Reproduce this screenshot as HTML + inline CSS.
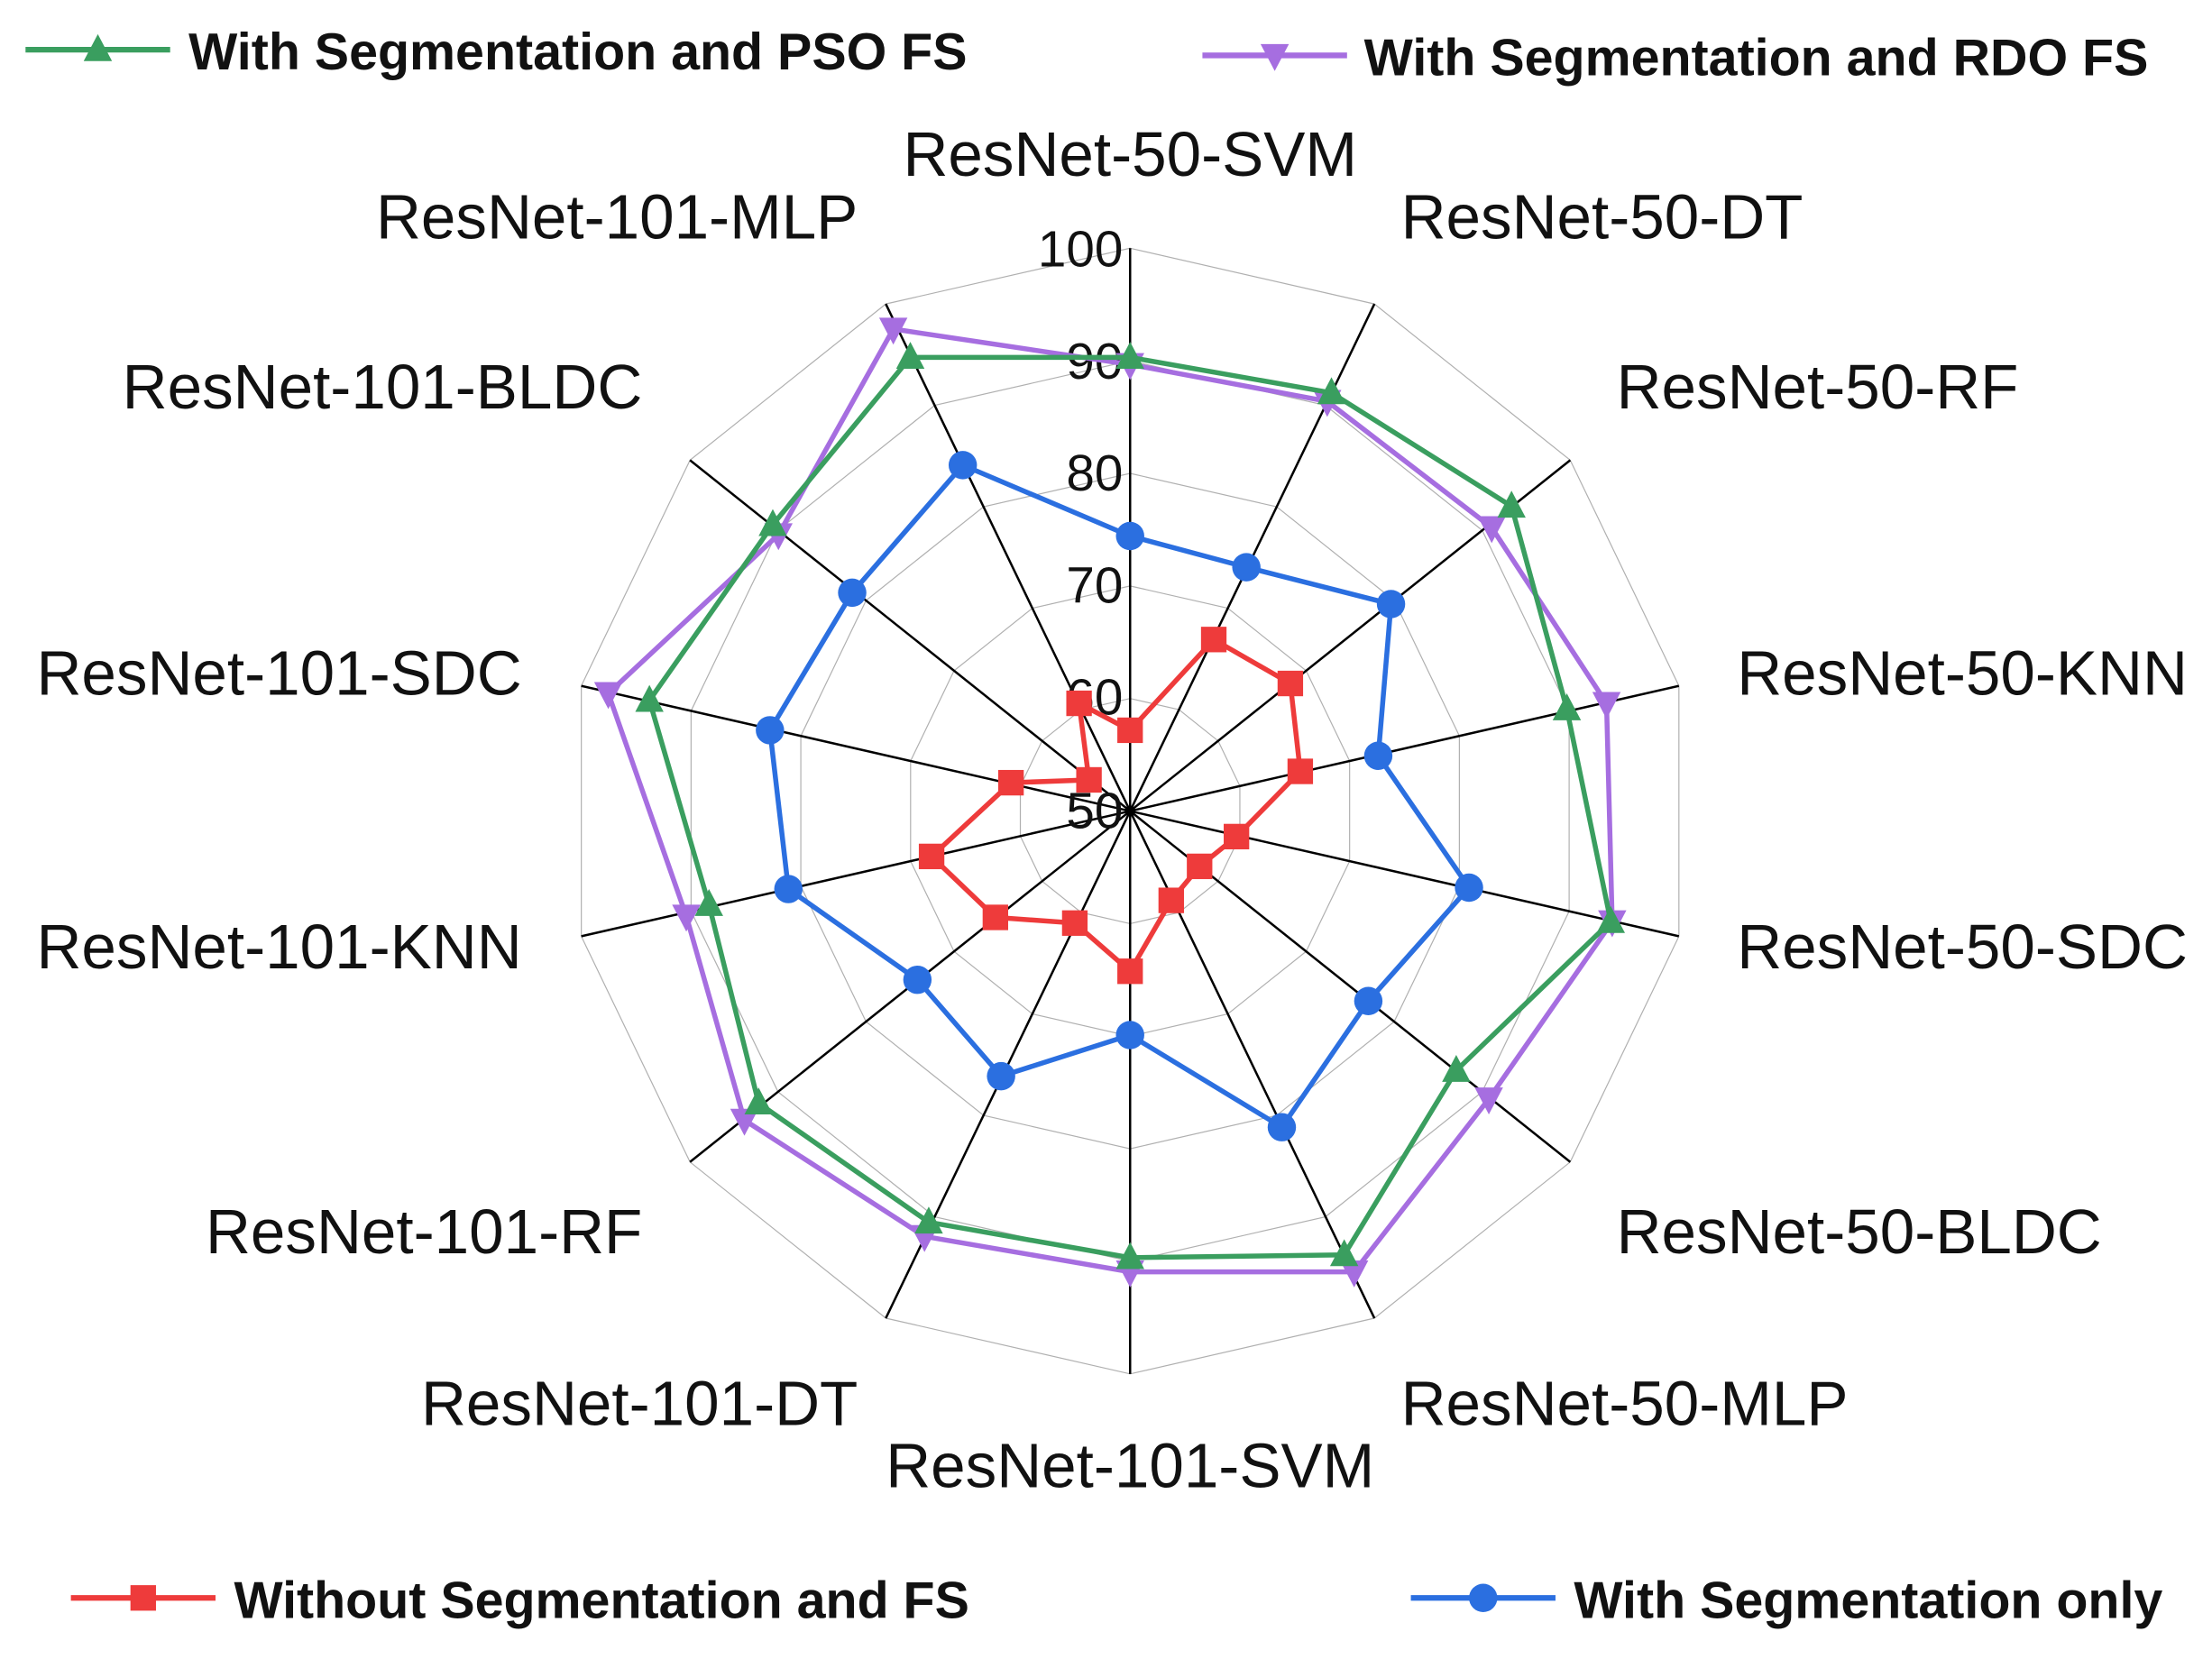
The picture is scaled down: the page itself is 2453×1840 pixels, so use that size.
<!DOCTYPE html>
<html><head><meta charset="utf-8"><style>html,body{margin:0;padding:0;background:#fff}svg{display:block}</style></head>
<body>
<svg width="2453" height="1840" viewBox="0 0 1560 1170" xmlns="http://www.w3.org/2000/svg" font-family="Liberation Sans, Arial, sans-serif">
<defs>
<g id="mu"><polygon points="0,-11 10,8 -10,8" fill="#3a9e5f"/></g>
<g id="md"><polygon points="0,11 10,-8 -10,-8" fill="#a66ee0"/></g>
<g id="mc"><circle cx="0" cy="0" r="10" fill="#2b6fe0"/></g>
<g id="ms"><rect x="-9" y="-9" width="18" height="18" fill="#ee3b3b"/></g>
</defs>
<g fill="none" stroke="#b0b0b0" stroke-width="1.2">
<polygon transform="translate(797,572) scale(79.4)" vector-effect="non-scaling-stroke" points="0,-1 0.4339,-0.9010 0.7818,-0.6235 0.9749,-0.2225 0.9749,0.2225 0.7818,0.6235 0.4339,0.9010 0,1 -0.4339,0.9010 -0.7818,0.6235 -0.9749,0.2225 -0.9749,-0.2225 -0.7818,-0.6235 -0.4339,-0.9010"/>
<polygon transform="translate(797,572) scale(158.8)" vector-effect="non-scaling-stroke" points="0,-1 0.4339,-0.9010 0.7818,-0.6235 0.9749,-0.2225 0.9749,0.2225 0.7818,0.6235 0.4339,0.9010 0,1 -0.4339,0.9010 -0.7818,0.6235 -0.9749,0.2225 -0.9749,-0.2225 -0.7818,-0.6235 -0.4339,-0.9010"/>
<polygon transform="translate(797,572) scale(238.2)" vector-effect="non-scaling-stroke" points="0,-1 0.4339,-0.9010 0.7818,-0.6235 0.9749,-0.2225 0.9749,0.2225 0.7818,0.6235 0.4339,0.9010 0,1 -0.4339,0.9010 -0.7818,0.6235 -0.9749,0.2225 -0.9749,-0.2225 -0.7818,-0.6235 -0.4339,-0.9010"/>
<polygon transform="translate(797,572) scale(317.6)" vector-effect="non-scaling-stroke" points="0,-1 0.4339,-0.9010 0.7818,-0.6235 0.9749,-0.2225 0.9749,0.2225 0.7818,0.6235 0.4339,0.9010 0,1 -0.4339,0.9010 -0.7818,0.6235 -0.9749,0.2225 -0.9749,-0.2225 -0.7818,-0.6235 -0.4339,-0.9010"/>
<polygon transform="translate(797,572) scale(397)" vector-effect="non-scaling-stroke" points="0,-1 0.4339,-0.9010 0.7818,-0.6235 0.9749,-0.2225 0.9749,0.2225 0.7818,0.6235 0.4339,0.9010 0,1 -0.4339,0.9010 -0.7818,0.6235 -0.9749,0.2225 -0.9749,-0.2225 -0.7818,-0.6235 -0.4339,-0.9010"/>
</g>
<path stroke="#000" stroke-width="1.6" fill="none" d="M797,572L797,175M797,572L969.3,214.3M797,572L1107.4,324.5M797,572L1184,483.7M797,572L1184,660.3M797,572L1107.4,819.5M797,572L969.3,929.7M797,572L797,969M797,572L624.7,929.7M797,572L486.6,819.5M797,572L410,660.3M797,572L410,483.7M797,572L486.6,324.5M797,572L624.7,214.3"/>
<g font-size="36" fill="#111" text-anchor="end">
<text x="792" y="188">100</text><text x="792" y="267">90</text><text x="792" y="346">80</text><text x="792" y="425">70</text><text x="792" y="504">60</text><text x="792" y="584">50</text>
</g>
<polyline fill="none" stroke="#ee3b3b" stroke-width="3.5" points="797,515 856,451 910,482 917,544 872,590 846,611 826,635 797,685 758,651 702,647 657,604 713,552 768,550 761,496 797,515"/>
<g><use href="#ms" x="797" y="515"/><use href="#ms" x="856" y="451"/><use href="#ms" x="910" y="482"/><use href="#ms" x="917" y="544"/><use href="#ms" x="872" y="590"/><use href="#ms" x="846" y="611"/><use href="#ms" x="826" y="635"/><use href="#ms" x="797" y="685"/><use href="#ms" x="758" y="651"/><use href="#ms" x="702" y="647"/><use href="#ms" x="657" y="604"/><use href="#ms" x="713" y="552"/><use href="#ms" x="768" y="550"/><use href="#ms" x="761" y="496"/></g>
<polyline fill="none" stroke="#2b6fe0" stroke-width="3.5" points="797,378 879,400 981,426 972,533 1036,626 965,706 904,795 797,730 706,759 647,691 556,627 543,515 601,418 679,328 797,378"/>
<g><use href="#mc" x="797" y="378"/><use href="#mc" x="879" y="400"/><use href="#mc" x="981" y="426"/><use href="#mc" x="972" y="533"/><use href="#mc" x="1036" y="626"/><use href="#mc" x="965" y="706"/><use href="#mc" x="904" y="795"/><use href="#mc" x="797" y="730"/><use href="#mc" x="706" y="759"/><use href="#mc" x="647" y="691"/><use href="#mc" x="556" y="627"/><use href="#mc" x="543" y="515"/><use href="#mc" x="601" y="418"/><use href="#mc" x="679" y="328"/></g>
<polyline fill="none" stroke="#a66ee0" stroke-width="3.5" points="797,257 936,283 1052,372 1133,496 1137,650 1050,775 955,897 797,897 652,872 525,790 484,646 429,489 549,377 630,232 797,257"/>
<g><use href="#md" x="797" y="257"/><use href="#md" x="936" y="283"/><use href="#md" x="1052" y="372"/><use href="#md" x="1133" y="496"/><use href="#md" x="1137" y="650"/><use href="#md" x="1050" y="775"/><use href="#md" x="955" y="897"/><use href="#md" x="797" y="897"/><use href="#md" x="652" y="872"/><use href="#md" x="525" y="790"/><use href="#md" x="484" y="646"/><use href="#md" x="429" y="489"/><use href="#md" x="549" y="377"/><use href="#md" x="630" y="232"/></g>
<polyline fill="none" stroke="#3a9e5f" stroke-width="3.5" points="797,252 939,277 1066,357 1105,500 1136,650 1027,755 948,885 797,887 655,862 535,778 500,638 458,494 545,370 642,252 797,252"/>
<g><use href="#mu" x="797" y="252"/><use href="#mu" x="939" y="277"/><use href="#mu" x="1066" y="357"/><use href="#mu" x="1105" y="500"/><use href="#mu" x="1136" y="650"/><use href="#mu" x="1027" y="755"/><use href="#mu" x="948" y="885"/><use href="#mu" x="797" y="887"/><use href="#mu" x="655" y="862"/><use href="#mu" x="535" y="778"/><use href="#mu" x="500" y="638"/><use href="#mu" x="458" y="494"/><use href="#mu" x="545" y="370"/><use href="#mu" x="642" y="252"/></g>
<g font-size="44" fill="#111">
<text x="797" y="124" text-anchor="middle">ResNet-50-SVM</text>
<text x="988" y="168">ResNet-50-DT</text>
<text x="1140" y="288">ResNet-50-RF</text>
<text x="1225" y="490">ResNet-50-KNN</text>
<text x="1225" y="683">ResNet-50-SDC</text>
<text x="1140" y="884">ResNet-50-BLDC</text>
<text x="988" y="1005">ResNet-50-MLP</text>
<text x="797" y="1049" text-anchor="middle">ResNet-101-SVM</text>
<text x="605" y="1005" text-anchor="end">ResNet-101-DT</text>
<text x="453" y="884" text-anchor="end">ResNet-101-RF</text>
<text x="368" y="683" text-anchor="end">ResNet-101-KNN</text>
<text x="368" y="490" text-anchor="end">ResNet-101-SDC</text>
<text x="453" y="288" text-anchor="end">ResNet-101-BLDC</text>
<text x="605" y="168" text-anchor="end">ResNet-101-MLP</text>
</g>
<g font-size="36.5" font-weight="bold" fill="#111">
<line x1="18" y1="35" x2="120" y2="35" stroke="#3a9e5f" stroke-width="4"/><use href="#mu" x="69" y="35"/>
<text x="133" y="49">With Segmentation and PSO FS</text>
<line x1="848" y1="39" x2="950" y2="39" stroke="#a66ee0" stroke-width="4"/><use href="#md" x="899" y="39"/>
<text x="962" y="53">With Segmentation and RDO FS</text>
<line x1="50" y1="1127" x2="152" y2="1127" stroke="#ee3b3b" stroke-width="4"/><use href="#ms" x="101" y="1127"/>
<text x="165" y="1141">Without Segmentation and FS</text>
<line x1="995" y1="1127" x2="1097" y2="1127" stroke="#2b6fe0" stroke-width="4"/><use href="#mc" x="1046" y="1127"/>
<text x="1110" y="1141">With Segmentation only</text>
</g>
</svg>
</body></html>
